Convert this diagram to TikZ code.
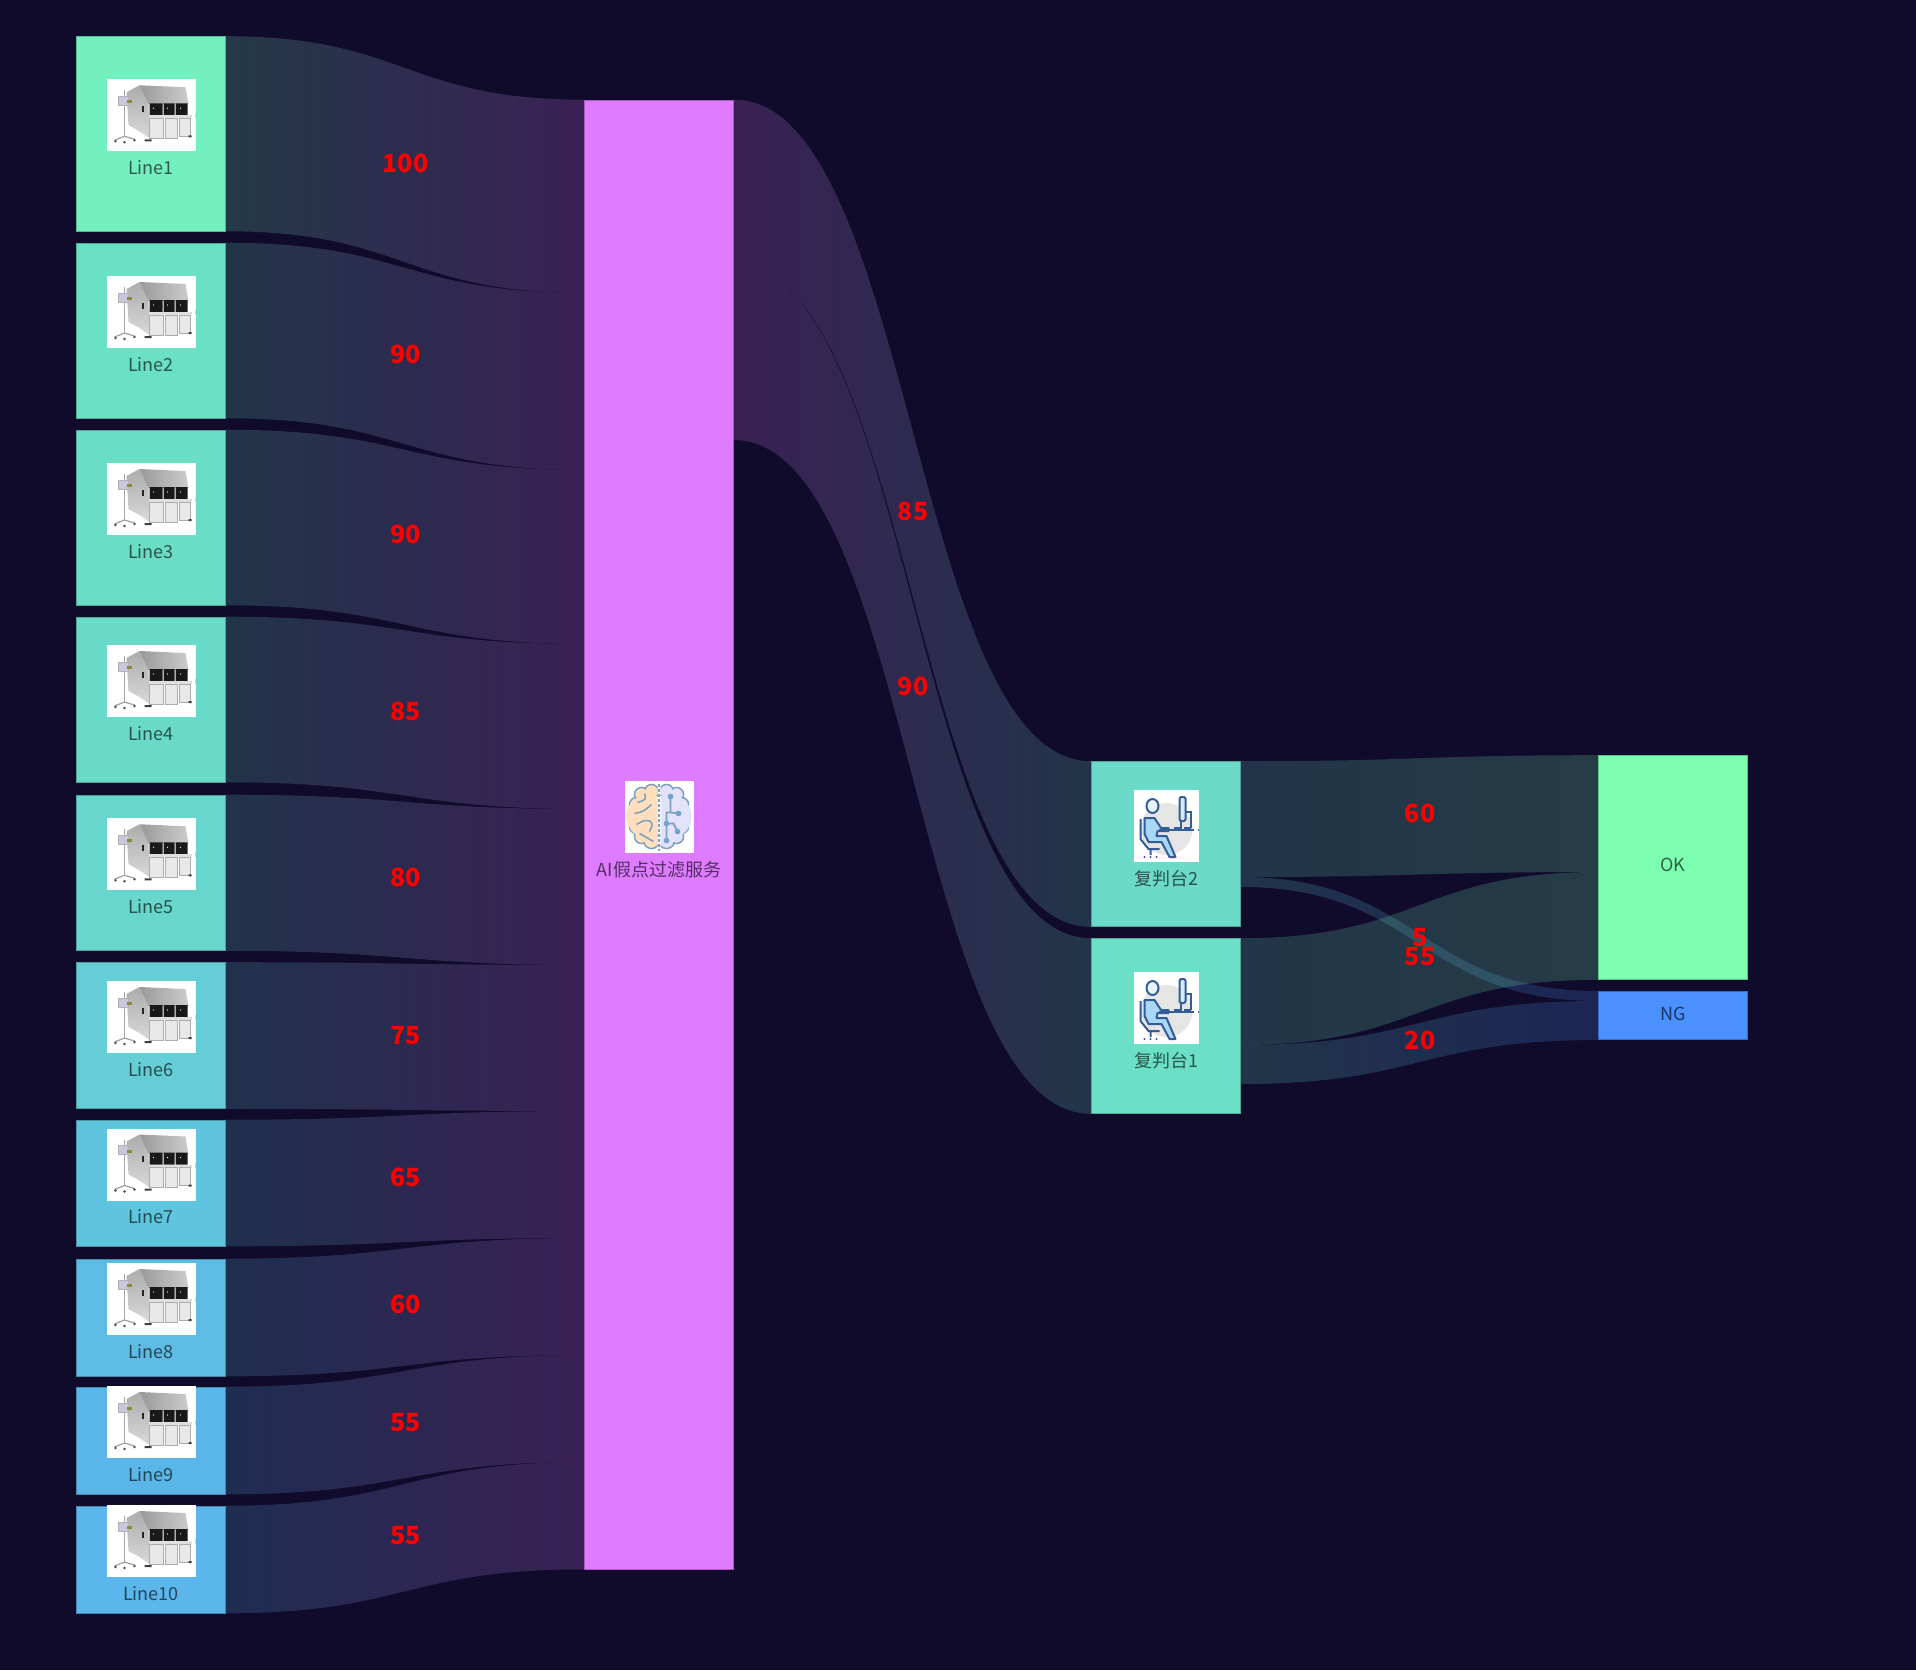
\documentclass[tikz,border=0pt]{standalone}
\usepackage{xcolor}
\usepackage{fontspec}
\setmainfont{Noto Sans CJK SC}
\usetikzlibrary{calc}
\definecolor{nightbg}{RGB}{16,11,42}
\definecolor{colLineA}{RGB}{115,240,192}
\definecolor{colLineB}{RGB}{106,224,197}
\definecolor{colLineC}{RGB}{106,222,196}
\definecolor{colLineD}{RGB}{105,218,199}
\definecolor{colLineE}{RGB}{104,214,204}
\definecolor{colLineF}{RGB}{100,205,213}
\definecolor{colLineG}{RGB}{95,196,221}
\definecolor{colLineH}{RGB}{93,188,227}
\definecolor{colLineI}{RGB}{90,182,232}
\definecolor{colLineJ}{RGB}{90,182,235}
\definecolor{colAi}{RGB}{222,123,255}
\definecolor{colRevA}{RGB}{108,224,198}
\definecolor{colRevB}{RGB}{107,218,201}
\definecolor{colOk}{RGB}{125,255,178}
\definecolor{colNg}{RGB}{74,144,255}
\definecolor{iconline}{RGB}{52,92,150}
\definecolor{iconfill}{RGB}{168,216,245}
\definecolor{brainline}{RGB}{125,160,190}
\definecolor{brainleft}{RGB}{255,222,190}
\definecolor{brainright}{RGB}{226,226,250}
\tikzset{
	stagebox/.style={inner sep=0pt,minimum width=74.7pt,draw=#1!75!black,fill=#1,line width=.3pt},
	nametext/.style={font=\fontsize{9}{9}\selectfont,text=black,text opacity=.62,inner sep=0pt},
	flowtext/.style={font=\fontsize{12.5}{12.5}\selectfont\bfseries,text=red,inner sep=0pt},
	machineicon/.pic={
		\fill[white] (0,0) rectangle (89,72);
		\draw[gray!70,line width=.8pt] (18,11) -- (18,57);
		\shade[top color=gray!65,bottom color=gray!30] (20,13) -- (33,6) -- (42,24) -- (43,59) -- (33,52) -- (22,46) -- cycle;
		\shade[left color=gray!80,right color=gray!40] (33,6) -- (79,8) -- (82,25) -- (42,25) -- cycle;
		\fill[black!85] (35,27) rectangle (37,33);
		\fill[black!90] (43,24) rectangle (56,36) (57,24) rectangle (68,36) (69,24) rectangle (81,36);
		\fill[gray!25] (42,36) rectangle (85,39);
		\fill[white] (47,29) circle (.6) (61,29) circle (.6) (74,29) circle (.6);
		\filldraw[fill=gray!18,draw=gray!65,line width=.2pt] (43,39) rectangle (57,59) (59,39) rectangle (71,59) (73,39) rectangle (84,57);
		\filldraw[fill=blue!25!gray!35,draw=gray!60,line width=.2pt] (12,17) rectangle (22,26);
		\fill[olive!60!gray] (20,21) rectangle (25,24);
		\fill[blue!15!gray!30] (88,34) rectangle (89,39);
		\draw[gray!75,line width=.6pt] (8,61) -- (18,57) -- (28,60);
		\fill[black!70] (9,62) circle (1.3) (18,63) circle (1.3) (28,61) circle (1.3);
		\fill[black!75] (38,60) rectangle (45,62) (82,56) rectangle (85,58);
	},
	personicon/.pic={
		\fill[white] (0,0) rectangle (65,72);
		\fill[gray!20] (33,39) circle (26);
		\filldraw[fill=iconfill,draw=iconline,line width=1pt,line join=round] (11,28) -- (21,28) -- (27.5,38) -- (35,38) -- (35,41) -- (24,41) -- (23,46) -- (33,46) -- (42,67) -- (36,67) -- (28,52) -- (15,52) -- (11,44) -- cycle;
		\filldraw[fill=white!70!iconfill,draw=iconline,line width=1pt] (19,16) ellipse (6 and 7);
		\draw[iconline,line width=1pt] (7,29) -- (7,49) -- (15,59) -- (26,59) (17,59) -- (17,65);
		\fill[iconline] (11,67) circle (1.2) (17,67) circle (1.2) (23,67) circle (1.2) (65,40) circle (.9);
		\draw[iconline,line width=1pt] (25,40) -- (60,40) (40,38) -- (47,38) -- (47,31) (52,22) -- (57,22) -- (57,38) (50,38) -- (57,38);
		\filldraw[fill=white!50!iconfill,draw=iconline,line width=1pt,rounded corners=1pt] (46,7) rectangle (52,31);
	},
	brainicon/.pic={
		\fill[white] (0,0) rectangle (69,72);
		\begin{scope}
			\clip (0,0) rectangle (33,72);
			\filldraw[fill=brainleft,draw=brainline,line width=.8pt] (27,11) circle (7) (17,14) circle (7) (12,24) circle (7) (10,35) circle (7) (12,46) circle (7) (17,56) circle (7) (27,60) circle (8);
			\fill[brainleft] (27,11) circle (6) (17,14) circle (6) (12,24) circle (6) (10,35) circle (6) (12,46) circle (6) (17,56) circle (6) (27,60) circle (7) (24,36) circle (22);
		\end{scope}
		\begin{scope}
			\clip (36,0) rectangle (69,72);
			\filldraw[fill=brainright,draw=brainline,line width=.8pt] (42,11) circle (7) (52,14) circle (7) (57,24) circle (7) (59,35) circle (7) (57,46) circle (7) (52,56) circle (7) (42,60) circle (8);
			\fill[brainright] (42,11) circle (6) (52,14) circle (6) (57,24) circle (6) (59,35) circle (6) (57,46) circle (6) (52,56) circle (6) (42,60) circle (7) (45,36) circle (22);
		\end{scope}
		\draw[brainline,line width=.8pt,rounded corners=2pt] (13,22) -- (22,19) -- (20,13) (10,33) -- (19,31) -- (27,24) (12,44) -- (21,39) -- (29,42) -- (25,51) (15,53) -- (22,57) -- (29,61);
		\draw[brainline,line width=1pt,dash pattern=on 1.5pt off 1pt] (34.5,3) -- (34.5,70);
		\draw[brainline,line width=.9pt] (46,16) -- (46,32) -- (42,32) -- (42,60) (46,32) -- (54,33) (42,43) -- (49,43) -- (53,51);
		\filldraw[fill=cyan!60!blue!60,draw=brainline,line width=.4pt] (46,16) circle (2.4) (54,33) circle (2.4) (42,43) circle (2.4) (53,51) circle (2.4) (42,60) circle (2.4);
	}
}
% stage box with picture on top and its name below
\newcommand{\linebox}[5]{
	\node[stagebox=#4,minimum height=#3*.5pt] (#1) at (151,#2) {};
	\pic at ($(#1)+(-44.5,-54.5)$) {machineicon};
	\node[nametext] (#1name) at ($(#1)+(0,34)$) {#5};
}
\newcommand{\revbox}[5]{
	\node[stagebox=#4,minimum height=#3*.5pt] (#1) at (1166,#2) {};
	\pic at ($(#1)+(-32.5,-54)$) {personicon};
	\node[nametext] (#1name) at ($(#1)+(0,35)$) {#5};
}
% ribbon: upper left, upper right, lower right, lower left, colours
\newcommand{\flowband}[6]{
	\shade[left color=#5,right color=#6,fill opacity=.2] (#1) .. controls +(178.5,0) and +(-178.5,0) .. (#2) -- (#3) .. controls +(-178.5,0) and +(178.5,0) .. (#4) -- cycle;
}
\begin{document}
\begin{tikzpicture}[x=.5pt,y=-.5pt]
	\fill[nightbg] (0,0) rectangle (1916,1670);
	\linebox{line1}{133.75}{194.5}{colLineA}{Line1}
	\linebox{line2}{330.5}{175}{colLineB}{Line2}
	\linebox{line3}{517.5}{175}{colLineC}{Line3}
	\linebox{line4}{699.5}{165}{colLineD}{Line4}
	\linebox{line5}{872.75}{155.5}{colLineE}{Line5}
	\linebox{line6}{1035.5}{146}{colLineF}{Line6}
	\linebox{line7}{1183}{126}{colLineG}{Line7}
	\linebox{line8}{1317.5}{117}{colLineH}{Line8}
	\linebox{line9}{1440.5}{107}{colLineI}{Line9}
	\linebox{line10}{1559.5}{107}{colLineJ}{Line10}
	\node[stagebox=colAi,minimum height=734.5pt] (ai) at (659,834.5) {};
	\pic at ($(ai)+(-34.5,-54)$) {brainicon};
	\node[nametext] (ainame) at ($(ai)+(0,35.5)$) {AI假点过滤服务};
	\revbox{rev2}{844}{165}{colRevB}{复判台2}
	\revbox{rev1}{1026}{175}{colRevA}{复判台1}
	\node[stagebox=colOk,minimum height=112pt] (ok) at (1673,867.5) {};
	\node[nametext] (okname) at (1673,865) {OK};
	\node[stagebox=colNg,minimum height=24.25pt] (ng) at (1673,1015.5) {};
	\node[nametext] (ngname) at (1673,1014) {NG};
	% split points on the boxes
	\coordinate (ai1) at (ai.north west |- 0,293);
	\coordinate (ai2) at (ai.north west |- 0,470);
	\coordinate (ai3) at (ai.north west |- 0,644);
	\coordinate (ai4) at (ai.north west |- 0,809);
	\coordinate (ai5) at (ai.north west |- 0,965);
	\coordinate (ai6) at (ai.north west |- 0,1111);
	\coordinate (ai7) at (ai.north west |- 0,1238);
	\coordinate (ai8) at (ai.north west |- 0,1355);
	\coordinate (ai9) at (ai.north west |- 0,1462);
	\coordinate (aiout1) at (ai.north east |- 0,265);
	\coordinate (aiout2) at (ai.north east |- 0,440);
	\coordinate (rev2a) at (rev2.north east |- 0,877);
	\coordinate (rev2b) at (rev2.north east |- 0,887);
	\coordinate (rev1a) at (rev1.north east |- 0,1045);
	\coordinate (rev1b) at (rev1.north east |- 0,1084);
	\coordinate (ok1) at (ok.north west |- 0,872);
	\coordinate (ng1) at (ng.north west |- 0,1001);
	% ribbons
	\flowband{line1.north east}{ai.north west}{ai1}{line1.south east}{colLineA}{colAi}
	\flowband{line2.north east}{ai1}{ai2}{line2.south east}{colLineB}{colAi}
	\flowband{line3.north east}{ai2}{ai3}{line3.south east}{colLineC}{colAi}
	\flowband{line4.north east}{ai3}{ai4}{line4.south east}{colLineD}{colAi}
	\flowband{line5.north east}{ai4}{ai5}{line5.south east}{colLineE}{colAi}
	\flowband{line6.north east}{ai5}{ai6}{line6.south east}{colLineF}{colAi}
	\flowband{line7.north east}{ai6}{ai7}{line7.south east}{colLineG}{colAi}
	\flowband{line8.north east}{ai7}{ai8}{line8.south east}{colLineH}{colAi}
	\flowband{line9.north east}{ai8}{ai9}{line9.south east}{colLineI}{colAi}
	\flowband{line10.north east}{ai9}{ai.south west}{line10.south east}{colLineJ}{colAi}
	\flowband{ai.north east}{rev2.north west}{rev2.south west}{aiout1}{colAi}{colRevB}
	\flowband{aiout1}{rev1.north west}{rev1.south west}{aiout2}{colAi}{colRevA}
	\flowband{rev2.north east}{ok.north west}{ok1}{rev2a}{colRevB}{colOk}
	\flowband{rev2a}{ng.north west}{ng1}{rev2b}{colRevB}{colNg}
	\flowband{rev1.north east}{ok1}{ok.south west}{rev1a}{colRevA}{colOk}
	\flowband{rev1a}{ng1}{ng.south west}{rev1b}{colRevA}{colNg}
	% values
	\node[flowtext] (val1) at (405.5,163) {100};
	\node[flowtext] (val2) at (405.5,354) {90};
	\node[flowtext] (val3) at (405.5,534) {90};
	\node[flowtext] (val4) at (405.5,711.5) {85};
	\node[flowtext] (val5) at (405.5,877.5) {80};
	\node[flowtext] (val6) at (405.5,1036) {75};
	\node[flowtext] (val7) at (405.5,1177.5) {65};
	\node[flowtext] (val8) at (405.5,1304.5) {60};
	\node[flowtext] (val9) at (405.5,1423) {55};
	\node[flowtext] (val10) at (405.5,1536) {55};
	\node[flowtext] (val11) at (913,511) {85};
	\node[flowtext] (val12) at (913,686) {90};
	\node[flowtext] (val13) at (1420,813.5) {60};
	\node[flowtext] (val14) at (1420,937.5) {5};
	\node[flowtext] (val15) at (1420,956.5) {55};
	\node[flowtext] (val16) at (1420,1040) {20};
\end{tikzpicture}
\end{document}
